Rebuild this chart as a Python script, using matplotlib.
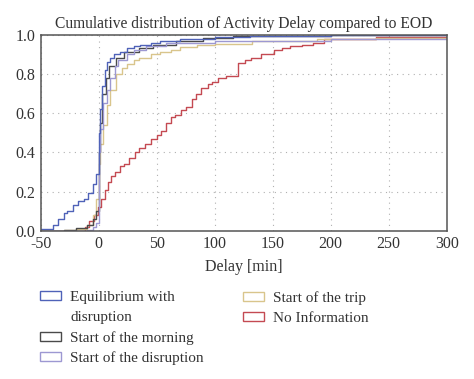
import numpy as np
import matplotlib.pyplot as plt
from matplotlib.patches import Patch

# step curves: delay [min] and cumulative share
eq_x = [-50, -39, -35, -30, -27, -22, -18, -13, -9, -5, -2, 0, 1, 3, 5, 7, 10, 13, 18, 24, 30, 36, 45, 53, 70, 100, 130, 200, 300]
eq_y = [0.01, 0.03, 0.06, 0.09, 0.10, 0.13, 0.15, 0.16, 0.19, 0.24, 0.29, 0.50, 0.62, 0.74, 0.82, 0.86, 0.88, 0.90, 0.91, 0.93, 0.94, 0.95, 0.96, 0.97, 0.98, 0.99, 0.995, 1.0, 1.0]

mo_x = [-50, -30, -20, -10, -5, -2, 0, 1, 3, 6, 9, 15, 22, 35, 47, 67, 90, 116, 200, 300]
mo_y = [0.0, 0.005, 0.015, 0.03, 0.06, 0.10, 0.40, 0.55, 0.70, 0.78, 0.84, 0.88, 0.91, 0.93, 0.95, 0.97, 0.985, 0.995, 1.0, 1.0]

di_x = [-50, -10, -5, -2, 0, 1, 4, 7, 10, 14, 17, 24, 30, 41, 58, 100, 200, 300]
di_y = [0.0, 0.005, 0.02, 0.04, 0.40, 0.52, 0.65, 0.72, 0.78, 0.84, 0.87, 0.90, 0.92, 0.94, 0.96, 0.97, 0.98, 0.98]

tr_x = [-50, -30, -20, -10, -5, -2, 0, 1, 4, 7, 10, 15, 20, 24, 30, 35, 45, 53, 62, 70, 85, 93, 100, 132, 188, 239, 300]
tr_y = [0.0, 0.005, 0.01, 0.03, 0.08, 0.16, 0.34, 0.44, 0.54, 0.64, 0.72, 0.80, 0.83, 0.85, 0.87, 0.88, 0.90, 0.91, 0.92, 0.935, 0.945, 0.95, 0.953, 0.97, 0.978, 0.985, 0.985]

ni_x = [-50, -12, -8, -4, -1, 2, 5, 8, 11, 14, 18, 22, 26, 31, 35, 40, 45, 50, 54, 58, 62, 66, 71, 75, 80, 84, 88, 94, 98, 103, 110, 120, 126, 131, 140, 151, 158, 165, 175, 185, 194, 239, 300]
ni_y = [0.0, 0.02, 0.05, 0.08, 0.12, 0.16, 0.21, 0.25, 0.28, 0.30, 0.33, 0.34, 0.37, 0.40, 0.42, 0.44, 0.47, 0.49, 0.51, 0.55, 0.58, 0.59, 0.615, 0.63, 0.67, 0.70, 0.73, 0.75, 0.76, 0.78, 0.79, 0.855, 0.87, 0.88, 0.90, 0.92, 0.93, 0.94, 0.95, 0.96, 0.977, 0.99, 0.99]

labels = ["Equilibrium with\ndisruption", "Start of the morning", "Start of the disruption",
          "Start of the trip", "No Information"]
colors = ["#4f62b8", "#4a4a4a", "#9d98d2", "#d9c58c", "#c44a52"]

plt.rcParams['font.family'] = ['Liberation Serif', 'DejaVu Serif']
plt.rcParams['axes.unicode_minus'] = False

fig = plt.figure(figsize=(4.74, 3.79), dpi=100)
ax = fig.add_axes([0.0859, 0.3913, 0.8565, 0.5171])

series = [(eq_x, eq_y), (mo_x, mo_y), (di_x, di_y), (tr_x, tr_y), (ni_x, ni_y)]
# draw red first so the others sit on top like in the original
for i in [4, 3, 1, 2, 0]:
    xs, ys = series[i]
    ax.plot(xs, ys, drawstyle='steps-post', color=colors[i], lw=1.0)

ax.set_xlim(-50, 300)
ax.set_ylim(0, 1.0)
ax.set_xticks(np.arange(-50, 301, 50))
ax.set_yticks(np.arange(0, 1.01, 0.2))
ax.set_yticklabels(["%.1f" % v for v in np.arange(0, 1.01, 0.2)])
ax.tick_params(length=0, labelsize=11.5, colors="#333333", pad=4)
ax.grid(True, linestyle=(0, (1, 4)), color="#b0b0b0", lw=0.8)
for s in ax.spines.values():
    s.set_color("#555555")
    s.set_linewidth(1.1)

ax.set_title("Cumulative distribution of Activity Delay compared to EOD", fontsize=11.2, color="#333333", pad=5)
ax.set_xlabel("Delay [min]", fontsize=11.5, color="#333333", labelpad=5)

# legend in two separate columns, both hung from the top; the two-line label
# is split so the box sits next to its first line as in the original
def box(c):
    return Patch(facecolor="white", edgecolor=c, lw=1.0)

col1 = [box(colors[0]), Patch(visible=False), box(colors[1]), box(colors[2])]
col1_lab = ["Equilibrium with", "disruption", labels[1], labels[2]]
col2 = [box(colors[3]), box(colors[4])]
col2_lab = [labels[3], labels[4]]

leg_kw = dict(loc='upper left', frameon=False, fontsize=11, handlelength=1.4,
              handleheight=0.55, handletextpad=0.6, labelspacing=0.45,
              labelcolor="#333333", borderaxespad=0, borderpad=0)
fig.legend(col1, col1_lab, bbox_to_anchor=(0.084, 0.232), **leg_kw)
fig.legend(col2, col2_lab, bbox_to_anchor=(0.512, 0.232), **leg_kw)

fig.savefig("out.png", dpi=100)
